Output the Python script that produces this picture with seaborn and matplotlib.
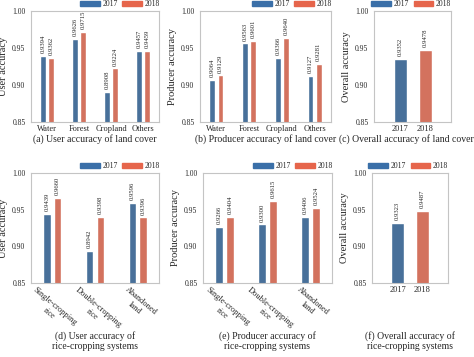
import numpy as np
import pandas as pd
import seaborn as sns
import matplotlib.pyplot as plt
from matplotlib.patches import Patch

# data
years = ["2017", "2018"]
land_classes = ["Water", "Forest", "Cropland", "Others"]
ua_land_2017 = [0.9394, 0.9626, 0.8908, 0.9457]
ua_land_2018 = [0.9362, 0.9715, 0.9224, 0.9459]
pa_land_2017 = [0.9064, 0.9563, 0.9366, 0.9127]
pa_land_2018 = [0.9129, 0.9601, 0.9640, 0.9281]
oa_land = [0.9352, 0.9478]

rice_classes = ["Single-cropping\nrice", "Double-cropping\nrice", "Abandoned\nland"]
ua_rice_2017 = [0.9439, 0.8942, 0.9596]
ua_rice_2018 = [0.9660, 0.9398, 0.9396]
pa_rice_2017 = [0.9266, 0.9300, 0.9406]
pa_rice_2018 = [0.9404, 0.9615, 0.9524]
oa_rice = [0.9323, 0.9487]

blue = "#3a6fa8"
red = "#e6654b"
palette = {"2017": blue, "2018": red}

sns.set_style("white")
plt.rcParams["font.family"] = ["Liberation Serif", "DejaVu Serif"]

fig = plt.figure(figsize=(4.74, 3.57), dpi=100)
W, H = 474, 357


def add_ax(x0, x1, y0, y1):
    return fig.add_axes([x0 / W, 1 - y1 / H, (x1 - x0) / W, (y1 - y0) / H])


def long_df(cats, v17, v18):
    return pd.DataFrame({
        "cat": list(cats) * 2,
        "year": ["2017"] * len(cats) + ["2018"] * len(cats),
        "val": list(v17) + list(v18),
    })


def style(ax, ylabel, rotate=False):
    ax.set_ylim(0.85, 1.0)
    ax.set_yticks([0.85, 0.90, 0.95, 1.00])
    ax.set_yticklabels(["0.85", "0.90", "0.95", "1.00"])
    ax.set_ylabel(ylabel, fontsize=7.5, labelpad=3)
    ax.set_xlabel("")
    for s in ax.spines.values():
        s.set_color("#c4c4c4")
        s.set_linewidth(0.8)
    ax.tick_params(axis="y", labelsize=5.5, length=2, width=0.5, color="#c4c4c4", pad=2)
    ax.tick_params(axis="x", labelsize=6, length=0, pad=2)
    if rotate:
        for t in ax.get_xticklabels():
            t.set_rotation(-40)
            t.set_ha("center")
            t.set_va("top")
            t.set_multialignment("center")
    for c in ax.containers:
        ax.bar_label(c, fmt="%.4f", rotation=90, padding=2, fontsize=4.8)
    handles = [Patch(color=blue, label="2017"), Patch(color=red, label="2018")]
    ax.legend(handles=handles, ncol=2, loc="lower right", bbox_to_anchor=(1.01, 1.02),
              frameon=False, fontsize=5.5, handlelength=2.6, handleheight=0.75,
              columnspacing=0.6, handletextpad=0.3, borderaxespad=0, borderpad=0.1)


def grouped(ax, cats, v17, v18, ylabel, rotate=False):
    df = long_df(cats, v17, v18)
    sns.barplot(data=df, x="cat", y="val", hue="year", palette=palette,
                width=0.5, gap=0.3, ax=ax, legend=False)
    style(ax, ylabel, rotate)


def overall(ax, vals, ylabel):
    df = pd.DataFrame({"year": years, "val": vals})
    sns.barplot(data=df, x="year", y="val", hue="year", palette=palette,
                width=0.52, ax=ax, legend=False)
    ax.set_xlim(-1.04, 2.04)
    style(ax, ylabel)


ax_a = add_ax(31, 159, 11, 122)
ax_b = add_ax(200, 331, 11, 122)
ax_c = add_ax(374, 451, 11, 122)
ax_d = add_ax(31, 159, 173, 283)
ax_e = add_ax(203, 332, 173, 283)
ax_f = add_ax(372, 448, 173, 283)

grouped(ax_a, land_classes, ua_land_2017, ua_land_2018, "User accuracy")
grouped(ax_b, land_classes, pa_land_2017, pa_land_2018, "Producer accuracy")
overall(ax_c, oa_land, "Overall accuracy")
grouped(ax_d, rice_classes, ua_rice_2017, ua_rice_2018, "User accuracy", rotate=True)
grouped(ax_e, rice_classes, pa_rice_2017, pa_rice_2018, "Producer accuracy", rotate=True)
overall(ax_f, oa_rice, "Overall accuracy")

captions_top = ["(a) User accuracy of land cover",
                "(b) Producer accuracy of land cover",
                "(c) Overall accuracy of land cover"]
cap_x = [95, 266, 406]
for x, cap in zip(cap_x, captions_top):
    fig.text(x / W, 1 - 139 / H, cap, ha="center", va="center", fontsize=7)

captions_bot = ["(d) User accuracy of\nrice-cropping systems",
                "(e) Producer accuracy of\nrice-cropping systems",
                "(f) Overall accuracy of\nrice-cropping systems"]
for ax, cap in zip([ax_d, ax_e, ax_f], captions_bot):
    p = ax.get_position()
    fig.text((p.x0 + p.x1) / 2, 1 - 341 / H, cap, ha="center", va="center",
             fontsize=7, linespacing=1.2)

fig.savefig("out.png", dpi=100)
